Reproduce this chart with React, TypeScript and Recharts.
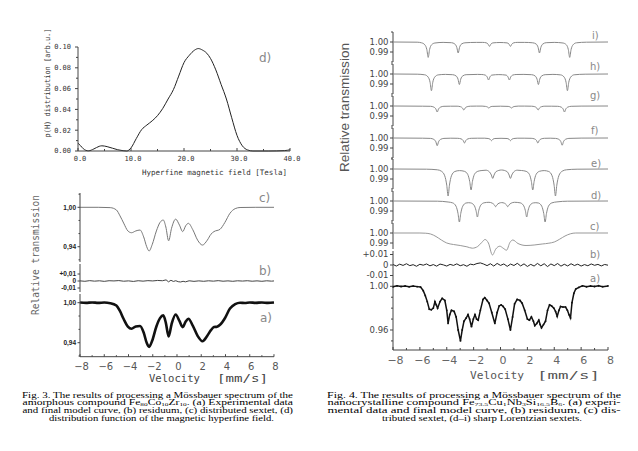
import React from 'react';
import { LineChart, Line, XAxis, YAxis, ReferenceLine } from 'recharts';

type Pair = [number, number];
const toRows = (pairs: Pair[]) => pairs.map(([v, t]) => ({ v, t }));

// ---------- Fig. 3 (d): distribution of the hyperfine field ----------
const hfField = [0, 0.5, 1, 1.5, 2, 3, 4, 4.5, 5.5, 6.5, 7.5, 8.5, 9.2, 10, 11, 12, 13, 14, 15, 16, 17, 18, 19, 20, 21, 22, 22.7, 23.5, 24.3, 25, 26, 27, 28, 29, 30, 31, 32, 33, 36, 39, 40];
const hfProb = [0.0075, 0.005, 0.0022, 0.0006, 0.0002, 0.002, 0.0045, 0.005, 0.0042, 0.0027, 0.0012, 0.0003, 0.0, 0.003, 0.012, 0.0205, 0.025, 0.029, 0.034, 0.041, 0.05, 0.059, 0.072, 0.085, 0.092, 0.097, 0.0985, 0.097, 0.094, 0.089, 0.078, 0.064, 0.05, 0.032, 0.015, 0.005, 0.001, 0.0, 0.0, 0.0004, 0.0012];
const hfTicks = [0, 5, 10, 15, 20, 25, 30, 35, 40];
const hfTickLabels: Record<string, string> = { '0': '0.0', '10': '10.0', '20': '20.0', '30': '30.0', '40': '40.0' };
const probTicks = [0, 0.01, 0.02, 0.03, 0.04, 0.05, 0.06, 0.07, 0.08, 0.09, 0.1];
const probTickLabels: Record<string, string> = { '0.00': '0.00', '0.02': '0.02', '0.04': '0.04', '0.06': '0.06', '0.08': '0.08', '0.10': '0.10' };

// ---------- Fig. 3 (a)-(c): Fe80Co10Zr10 spectrum ----------
const fig3Sextet: Pair[] = [
  [-8, 1.0], [-6.5, 1.0], [-5.5, 0.9995], [-5.0, 0.996], [-4.7, 0.987], [-4.4, 0.976], [-4.05, 0.964], [-3.75, 0.9613],
  [-3.4, 0.964], [-3.05, 0.9654], [-2.75, 0.955], [-2.5, 0.94], [-2.3, 0.9335], [-2.05, 0.943], [-1.7, 0.964], [-1.4, 0.977],
  [-1.13, 0.9806], [-0.92, 0.97], [-0.69, 0.949], [-0.45, 0.968], [-0.11, 0.982], [0.2, 0.973], [0.47, 0.963], [0.72, 0.972],
  [0.94, 0.9756], [1.3, 0.966], [1.7, 0.95], [2.1, 0.9425], [2.5, 0.95], [2.8, 0.959], [3.05, 0.963], [3.55, 0.9665],
  [3.95, 0.977], [4.37, 0.991], [4.8, 0.998], [5.2, 0.9997], [6.5, 1.0], [8, 1.0],
];
const fig3Residual: Pair[] = [
  [-8, 0.0002], [-7.6, -0.0004], [-7.2, 0.0005], [-6.8, -0.0002], [-6.4, 0.0003], [-6.0, -0.0005], [-5.6, 0.0004], [-5.2, 0.0001],
  [-4.8, 0.0006], [-4.4, -0.0003], [-4.0, 0.0002], [-3.6, -0.0006], [-3.2, 0.0004], [-2.8, -0.0002], [-2.4, 0.0005], [-2.0, 0.0001],
  [-1.6, 0.0008], [-1.2, 0.0004], [-0.9, 0.0016], [-0.7, -0.0012], [-0.5, 0.001], [-0.3, -0.0006], [-0.1, 0.0004], [0.1, -0.001],
  [0.3, -0.0014], [0.5, -0.0004], [0.7, -0.0012], [1.0, 0.0003], [1.4, -0.0005], [1.8, 0.0002], [2.2, -0.0004], [2.6, 0.0003],
  [3.0, -0.0002], [3.4, 0.0005], [3.8, -0.0003], [4.2, 0.0002], [4.6, -0.0004], [5.0, 0.0003], [5.4, -0.0001], [5.8, 0.0004],
  [6.2, -0.0003], [6.6, 0.0002], [7.0, -0.0004], [7.4, 0.0003], [7.8, -0.0002], [8.0, 0.0001],
];
const fig3Measured: Pair[] = [
  [-8, 1.0003], [-7.5, 0.9998], [-7, 1.0004], [-6.5, 0.9997], [-6, 1.0002], [-5.5, 0.9993], [-5.0, 0.9958], [-4.7, 0.9872],
  [-4.4, 0.9755], [-4.05, 0.9642], [-3.75, 0.961], [-3.4, 0.9643], [-3.05, 0.965], [-2.75, 0.9553], [-2.5, 0.9398], [-2.3, 0.9338],
  [-2.05, 0.9428], [-1.7, 0.9643], [-1.4, 0.9768], [-1.13, 0.981], [-0.92, 0.9698], [-0.69, 0.9495], [-0.45, 0.9676], [-0.11, 0.9823],
  [0.2, 0.9726], [0.47, 0.9634], [0.72, 0.9718], [0.94, 0.976], [1.3, 0.9656], [1.7, 0.9503], [2.1, 0.9422], [2.5, 0.9504],
  [2.8, 0.9588], [3.05, 0.9634], [3.3, 0.964], [3.55, 0.9668], [3.95, 0.9766], [4.37, 0.9912], [4.8, 0.9978], [5.2, 0.9999],
  [5.6, 0.9996], [6, 1.0004], [6.5, 0.9998], [7, 1.0003], [7.5, 0.9997], [8, 1.0002],
];

// ---------- Fig. 4: Fe73.5Cu1Nb3Si16.5B6 spectrum ----------
const sextetI: Pair[] = [
  [-8, 1.0], [-6.2, 0.9998],
  [-5.88, 0.9992], [-5.63, 0.9972], [-5.48, 0.9923], [-5.38, 0.9846], [-5.28, 0.9923], [-5.13, 0.9972], [-4.88, 0.999],
  [-4.27, 0.9996],
  [-3.65, 0.9993], [-3.4, 0.998], [-3.25, 0.9945], [-3.15, 0.989], [-3.05, 0.9945], [-2.9, 0.998], [-2.65, 0.9992],
  [-1.8, 0.9996],
  [-1.32, 0.9996], [-1.07, 0.9992], [-0.92, 0.9978], [-0.82, 0.9956], [-0.72, 0.9978], [-0.57, 0.9991],
  [-0.04, 0.9995],
  [0.49, 0.9991], [0.64, 0.9978], [0.74, 0.9956], [0.84, 0.9978], [0.99, 0.9992], [1.24, 0.9996],
  [1.8, 0.9996],
  [2.4, 0.9992], [2.65, 0.998], [2.8, 0.9945], [2.9, 0.989], [3.0, 0.9945], [3.15, 0.998], [3.4, 0.9993],
  [4.0, 0.9996],
  [4.65, 0.999], [4.9, 0.9972], [5.05, 0.9923], [5.15, 0.9846], [5.25, 0.9923], [5.4, 0.9972], [5.65, 0.9992],
  [6.4, 0.9998], [8, 1.0],
];
const sextetH: Pair[] = [
  [-8, 1.0], [-6.2, 0.9998],
  [-5.64, 0.9992], [-5.39, 0.997], [-5.24, 0.9917], [-5.14, 0.9833], [-5.04, 0.9917], [-4.89, 0.997], [-4.64, 0.9991],
  [-4.1, 0.9996],
  [-3.56, 0.9993], [-3.31, 0.9981], [-3.16, 0.9948], [-3.06, 0.9895], [-2.96, 0.9948], [-2.81, 0.9981], [-2.56, 0.9993],
  [-1.7, 0.9996],
  [-1.39, 0.9995], [-1.14, 0.9989], [-0.99, 0.997], [-0.89, 0.994], [-0.79, 0.997], [-0.64, 0.9989],
  [-0.12, 0.9994],
  [0.41, 0.9989], [0.56, 0.997], [0.66, 0.994], [0.76, 0.997], [0.91, 0.9989], [1.16, 0.9995],
  [1.74, 0.9996],
  [2.32, 0.9993], [2.57, 0.9981], [2.72, 0.9948], [2.82, 0.9895], [2.92, 0.9948], [3.07, 0.9981], [3.32, 0.9993],
  [3.9, 0.9996],
  [4.48, 0.9991], [4.73, 0.997], [4.88, 0.9917], [4.98, 0.9833], [5.08, 0.9917], [5.23, 0.997], [5.48, 0.9992],
  [6.3, 0.9998], [8, 1.0],
];
const sextetG: Pair[] = [
  [-8, 1.0], [-5.8, 0.9998],
  [-5.21, 0.9997], [-4.96, 0.9989], [-4.81, 0.997], [-4.71, 0.994], [-4.61, 0.997], [-4.46, 0.9989], [-4.21, 0.9997],
  [-3.72, 0.9998],
  [-3.23, 0.9998], [-2.98, 0.9993], [-2.83, 0.998], [-2.73, 0.996], [-2.63, 0.998], [-2.48, 0.9993], [-2.23, 0.9998],
  [-1.8, 0.9999],
  [-1.37, 0.9999], [-1.12, 0.9996], [-0.97, 0.999], [-0.87, 0.998], [-0.77, 0.999], [-0.62, 0.9996],
  [0.0, 0.9998],
  [0.57, 0.9996], [0.72, 0.999], [0.82, 0.998], [0.92, 0.999], [1.07, 0.9996], [1.32, 0.9999],
  [1.8, 0.9999],
  [2.3, 0.9998], [2.55, 0.9993], [2.7, 0.998], [2.8, 0.996], [2.9, 0.998], [3.05, 0.9993], [3.3, 0.9998],
  [3.78, 0.9998],
  [4.26, 0.9997], [4.51, 0.9989], [4.66, 0.997], [4.76, 0.994], [4.86, 0.997], [5.01, 0.9989], [5.26, 0.9997],
  [6.0, 0.9999], [8, 1.0],
];
const sextetF: Pair[] = [
  [-8, 1.0], [-5.8, 0.9998],
  [-5.21, 0.9996], [-4.96, 0.9986], [-4.81, 0.9962], [-4.71, 0.9923], [-4.61, 0.9962], [-4.46, 0.9986], [-4.21, 0.9996],
  [-3.7, 0.9998],
  [-3.18, 0.9997], [-2.93, 0.9991], [-2.78, 0.9975], [-2.68, 0.995], [-2.58, 0.9975], [-2.43, 0.9991], [-2.18, 0.9997],
  [-1.7, 0.9998],
  [-1.17, 0.9998], [-0.92, 0.9995], [-0.77, 0.9987], [-0.67, 0.9973], [-0.57, 0.9987], [-0.42, 0.9995],
  [0.04, 0.9997],
  [0.49, 0.9995], [0.64, 0.9987], [0.74, 0.9973], [0.84, 0.9987], [0.99, 0.9995], [1.24, 0.9998],
  [1.76, 0.9998],
  [2.28, 0.9997], [2.53, 0.9991], [2.68, 0.9975], [2.78, 0.995], [2.88, 0.9975], [3.03, 0.9991], [3.28, 0.9997],
  [3.7, 0.9998],
  [4.09, 0.9996], [4.34, 0.9987], [4.49, 0.9964], [4.59, 0.9928], [4.69, 0.9964], [4.84, 0.9987], [5.09, 0.9996],
  [6.0, 0.9999], [8, 1.0],
];
const sextetE: Pair[] = [
  [-8, 1.0], [-5.5, 0.9998], [-4.7, 0.9992],
  [-4.4, 0.9978], [-4.15, 0.9932], [-4.0, 0.9838], [-3.9, 0.973], [-3.8, 0.9838], [-3.65, 0.9932], [-3.4, 0.9975],
  [-3.05, 0.9984],
  [-2.69, 0.9977], [-2.44, 0.9946], [-2.29, 0.9874], [-2.19, 0.979], [-2.09, 0.9874], [-1.94, 0.9946], [-1.69, 0.9977],
  [-1.38, 0.9985],
  [-1.08, 0.9988], [-0.83, 0.9972], [-0.68, 0.994], [-0.58, 0.9906], [-0.48, 0.994], [-0.33, 0.9974],
  [0.08, 0.999],
  [0.49, 0.9974], [0.64, 0.994], [0.74, 0.9906], [0.84, 0.994], [0.99, 0.9972], [1.24, 0.9988],
  [1.57, 0.9985],
  [1.9, 0.9977], [2.15, 0.9946], [2.3, 0.9874], [2.4, 0.979], [2.5, 0.9874], [2.65, 0.9946], [2.9, 0.9977],
  [3.25, 0.9984],
  [3.59, 0.9975], [3.84, 0.9932], [3.99, 0.9838], [4.09, 0.973], [4.19, 0.9838], [4.34, 0.9932], [4.59, 0.9978],
  [4.9, 0.9992], [5.7, 0.9998], [8, 1.0],
];
const sextetD: Pair[] = [
  [-8, 1.0], [-4.7, 0.9998], [-3.9, 0.999],
  [-3.56, 0.9981], [-3.31, 0.9948], [-3.16, 0.9874], [-3.06, 0.979], [-2.96, 0.9874], [-2.81, 0.9948], [-2.56, 0.998],
  [-2.39, 0.9983],
  [-2.22, 0.9981], [-1.97, 0.9958], [-1.82, 0.9904], [-1.72, 0.984], [-1.62, 0.9904], [-1.47, 0.9958], [-1.22, 0.9982],
  [-0.86, 0.9987], [-0.61, 0.9978], [-0.46, 0.9962], [-0.36, 0.9943], [-0.26, 0.9962], [-0.11, 0.9978],
  [0.09, 0.9984],
  [0.29, 0.9978], [0.44, 0.9962], [0.54, 0.9943], [0.64, 0.9962], [0.79, 0.9978], [1.04, 0.9987],
  [1.45, 0.9982], [1.7, 0.9958], [1.85, 0.9904], [1.95, 0.984], [2.05, 0.9904], [2.2, 0.9958], [2.45, 0.9981],
  [2.63, 0.9983],
  [2.82, 0.998], [3.07, 0.9948], [3.22, 0.9874], [3.32, 0.979], [3.42, 0.9874], [3.57, 0.9948], [3.82, 0.9981],
  [4.2, 0.9991], [5.0, 0.9998], [8, 1.0],
];
const fig4Distributed: Pair[] = [
  [-8, 1.0], [-6, 1.0], [-5.6, 0.9998], [-5.2, 0.999], [-4.8, 0.9965], [-4.4, 0.993], [-4.0, 0.99], [-3.5, 0.9885],
  [-3.0, 0.9875], [-2.5, 0.9862], [-2.1, 0.9848], [-1.7, 0.9865], [-1.4, 0.9905], [-1.15, 0.9935], [-0.9, 0.99],
  [-0.6, 0.978], [-0.35, 0.984], [-0.05, 0.9868], [0.2, 0.9848], [0.45, 0.9828], [0.7, 0.9905], [0.92, 0.993],
  [1.3, 0.9895], [1.9, 0.9875], [2.5, 0.988], [3.1, 0.989], [3.6, 0.9898], [4.0, 0.991], [4.4, 0.9938], [4.8, 0.997],
  [5.2, 0.9992], [5.6, 1.0], [8, 1.0],
];
const fig4Residual: Pair[] = [
  [-8, 0.0005], [-7.75, -0.001], [-7.5, 0.0008], [-7.25, -0.0004], [-7, 0.0012], [-6.75, -0.0006], [-6.5, 0.0003], [-6.25, -0.0012],
  [-6, 0.0007], [-5.75, -0.0002], [-5.5, 0.001], [-5.25, -0.0008], [-5, 0.0004], [-4.75, -0.0011], [-4.5, 0.0009], [-4.25, 0.0001],
  [-4, -0.001], [-3.75, 0.0006], [-3.5, -0.0004], [-3.25, 0.0011], [-3, -0.0007], [-2.75, 0.0003], [-2.5, -0.0012], [-2.25, 0.0008],
  [-2, 0.0002], [-1.75, 0.0014], [-1.5, 0.002], [-1.25, 0.0009], [-1, -0.0006], [-0.75, 0.0012], [-0.5, -0.001], [-0.25, 0.0015],
  [0, -0.0004], [0.25, 0.001], [0.5, -0.0013], [0.75, 0.0009], [1, -0.0005], [1.25, 0.0016], [1.5, -0.0009], [1.75, 0.0011],
  [2, -0.0014], [2.25, 0.0006], [2.5, -0.001], [2.75, 0.0015], [3, -0.0008], [3.25, 0.0012], [3.5, -0.0015], [3.75, 0.001],
  [4, -0.0006], [4.25, 0.0014], [4.5, -0.0011], [4.75, 0.0007], [5, -0.0009], [5.25, 0.0012], [5.5, -0.0005], [5.75, 0.0008],
  [6, -0.001], [6.25, 0.0004], [6.5, -0.0007], [6.75, 0.001], [7, -0.0003], [7.25, 0.0006], [7.5, -0.0009], [7.75, 0.0005], [8, -0.0002],
];
const fig4Measured: Pair[] = [
  [-8.0, 0.9996], [-7.7, 1.0004], [-7.4, 0.9998], [-7.1, 1.0003], [-6.8, 0.9995], [-6.5, 1.0002], [-6.2, 0.9997], [-5.95, 0.9993],
  [-5.75, 0.996], [-5.6, 0.9915], [-5.45, 0.986], [-5.3, 0.979], [-5.15, 0.9785], [-5.0, 0.98], [-4.88, 0.986], [-4.78, 0.983],
  [-4.68, 0.98], [-4.5, 0.986], [-4.34, 0.989], [-4.14, 0.987], [-4.0, 0.978], [-3.9, 0.966], [-3.78, 0.974], [-3.65, 0.978],
  [-3.45, 0.977], [-3.3, 0.972], [-3.15, 0.96], [-2.98, 0.95], [-2.85, 0.96], [-2.72, 0.968], [-2.55, 0.971], [-2.42, 0.974],
  [-2.3, 0.97], [-2.16, 0.963], [-2.02, 0.97], [-1.9, 0.974], [-1.78, 0.97], [-1.66, 0.969], [-1.5, 0.978], [-1.3, 0.988],
  [-1.17, 0.9897], [-1.0, 0.987], [-0.85, 0.9845], [-0.65, 0.976], [-0.42, 0.966], [-0.25, 0.976], [-0.1, 0.982], [0.05, 0.983],
  [0.2, 0.9815], [0.35, 0.979], [0.55, 0.97], [0.74, 0.96], [0.9, 0.972], [1.05, 0.984], [1.24, 0.988], [1.45, 0.987],
  [1.61, 0.9845], [1.8, 0.978], [2.0, 0.97], [2.15, 0.969], [2.3, 0.972], [2.45, 0.968], [2.55, 0.964], [2.7, 0.966],
  [2.85, 0.969], [2.95, 0.965], [3.05, 0.962], [3.2, 0.965], [3.35, 0.968], [3.5, 0.978], [3.65, 0.983], [3.8, 0.982],
  [3.97, 0.98], [4.1, 0.977], [4.22, 0.9725], [4.35, 0.978], [4.47, 0.9815], [4.65, 0.981], [4.84, 0.981], [4.98, 0.978],
  [5.1, 0.974], [5.21, 0.971], [5.32, 0.985], [5.46, 0.9936], [5.6, 0.9975], [5.83, 0.999], [6.1, 1.0004], [6.4, 0.9996],
  [6.7, 1.0003], [7.0, 0.9998], [7.3, 1.0005], [7.6, 0.9997], [8.0, 1.0003],
];

// velocity axis
const velocityTicks = [-8, -7, -6, -5, -4, -3, -2, -1, 0, 1, 2, 3, 4, 5, 6, 7, 8];
const velocityTickLabels: Record<string, string> = { '-8': '−8', '-6': '−6', '-4': '−4', '-2': '−2', '0': '0', '2': '2', '4': '4', '6': '6', '8': '8' };

// sextet panel ticks
const sextetTicks = [1.01, 1.0, 0.99, 0.98];
const sextetTickLabels: Record<string, string> = { '1.00': '1.00', '0.99': '0.99' };
const fig4DistTicks = [1.01, 1.0, 0.99];
const fig4ResTicks = [0.01, 0, -0.01];
const fig4ResTickLabels: Record<string, string> = { '0.01': '+0.01', '0.00': '0', '-0.01': '-0.01' };
const fig4MeasTicks = [1.0, 0.99, 0.98, 0.97, 0.96, 0.95];
const fig4MeasTickLabels: Record<string, string> = { '1.00': '1.00', '0.96': '0.96' };

const fig3SextetTicks = [1.02, 1.0, 0.98, 0.96, 0.94, 0.92];
const fig3TransTickLabels: Record<string, string> = { '1.00': '1,00', '0.94': '0,94' };
const fig3ResTicks = [0.01, 0, -0.01];
const fig3ResTickLabels: Record<string, string> = { '0.01': '+0,01', '0.00': '0', '-0.01': '-0,01' };
const fig3MeasTicks = [1.0, 0.98, 0.96, 0.94, 0.92];

// caption lines: [text, subscript?]
type Seg = [string, boolean];
const fig3Caption: Seg[][] = [
  [['Fig. 3. The results of processing a Mössbauer spectrum of the', false]],
  [['amorphous compound Fe', false], ['80', true], ['Co', false], ['10', true], ['Zr', false], ['10', true], ['. (a) Experimental data', false]],
  [['and final model curve, (b) residuum, (c) distributed sextet, (d)', false]],
  [['distribution function of the magnetic hyperfine field.', false]],
];
const fig4Caption: Seg[][] = [
  [['Fig. 4. The results of processing a Mössbauer spectrum of the', false]],
  [['nanocrystalline compound Fe', false], ['73.5', true], ['Cu', false], ['1', true], ['Nb', false], ['3', true], ['Si', false], ['16.5', true], ['B', false], ['6', true], ['. (a) experi-', false]],
  [['mental data and final model curve, (b) residuum, (c) dis-', false]],
  [['tributed sextet, (d–i) sharp Lorentzian sextets.', false]],
];

const AXIS = '#444';

type YTickOpts = { labels: Record<string, string>; digits: number; len: number; gap: number; font: string; size: number; fill: string; weight?: number };
const makeYTick = (o: YTickOpts) => (p: any) => {
  const value = Number(p.payload?.value);
  const text = o.labels[(Math.abs(value) < 1e-9 ? 0 : value).toFixed(o.digits)];
  return (
    <g>
      <line x1={p.x} x2={p.x - (text ? o.len : o.len - 1)} y1={p.y} y2={p.y} stroke={AXIS} strokeWidth={1} />
      {text !== undefined && (
        <text x={p.x - o.len - o.gap} y={p.y} dy="0.35em" textAnchor="end" fontFamily={o.font} fontSize={o.size} fontWeight={o.weight ?? 400} fill={o.fill}>
          {text}
        </text>
      )}
    </g>
  );
};

type XTickOpts = { labels: Record<string, string>; len: number; dy: number; dx: number; font: string; size: number; fill: string };
const makeXTick = (o: XTickOpts) => (p: any) => {
  const value = Number(p.payload?.value);
  const text = o.labels[String(value)];
  return (
    <g>
      <line x1={p.x} x2={p.x} y1={p.y} y2={p.y - (text ? o.len : o.len - 1)} stroke={AXIS} strokeWidth={1} />
      {text !== undefined && (
        <text x={p.x + o.dx} y={p.y + o.dy} textAnchor="middle" fontFamily={o.font} fontSize={o.size} fill={o.fill}>
          {text}
        </text>
      )}
    </g>
  );
};

const hfXTick = makeXTick({ labels: hfTickLabels, len: 3, dy: 10, dx: 2, font: 'DejaVu Sans Mono', size: 7, fill: '#333' });
const probYTick = makeYTick({ labels: probTickLabels, digits: 2, len: 3, gap: 4, font: 'DejaVu Sans Mono', size: 7, fill: '#333' });
const fig3XTick = makeXTick({ labels: velocityTickLabels, len: 2.5, dy: 13, dx: 1.5, font: 'DejaVu Sans', size: 10, fill: '#555' });
const fig3TransYTick = makeYTick({ labels: fig3TransTickLabels, digits: 2, len: 2.5, gap: 1.5, font: 'Liberation Sans', size: 6.5, fill: '#222', weight: 700 });
const fig3ResYTick = makeYTick({ labels: fig3ResTickLabels, digits: 2, len: 2.5, gap: 1.5, font: 'Liberation Sans', size: 6.5, fill: '#222', weight: 700 });
const fig4XTick = makeXTick({ labels: velocityTickLabels, len: 3, dy: 13.5, dx: 2.5, font: 'DejaVu Sans', size: 11, fill: '#666' });
const sextetYTick = makeYTick({ labels: sextetTickLabels, digits: 2, len: 3, gap: 1.5, font: 'DejaVu Sans', size: 8.5, fill: '#444' });
const fig4ResYTick = makeYTick({ labels: fig4ResTickLabels, digits: 2, len: 3, gap: 1.5, font: 'DejaVu Sans', size: 8.5, fill: '#444' });
const fig4MeasYTick = makeYTick({ labels: fig4MeasTickLabels, digits: 2, len: 3, gap: 1.5, font: 'DejaVu Sans', size: 8.5, fill: '#444' });

const ZERO = { top: 0, right: 0, bottom: 0, left: 0 };

// Fig. 4 sextet strips share one vertical scale (1000 px per unit)
const SEXTET_DOMAIN: [number, number] = [0.968, 1.012];

type StripProps = { top: number; rows: Pair[]; stroke: string; ticks: number[]; segTop: number; segBottom: number };
const Fig4Strip = ({ top, rows, stroke, ticks, segTop, segBottom }: StripProps) => (
  <div style={{ position: 'absolute', left: 350.5, top }}>
    <LineChart width={257} height={44} data={toRows(rows)} margin={ZERO}>
      <XAxis type="number" dataKey="v" domain={[-8, 8]} hide />
      <YAxis type="number" domain={SEXTET_DOMAIN} width={42} ticks={ticks} interval={0} tickSize={0} tickMargin={0} axisLine={false} tickLine={false} tick={sextetYTick} />
      <ReferenceLine segment={[{ x: -8, y: segTop }, { x: -8, y: segBottom }]} stroke={AXIS} strokeWidth={1} />
      <Line type="monotone" dataKey="t" stroke={stroke} strokeWidth={1} dot={false} isAnimationActive={false} />
    </LineChart>
  </div>
);

const hfRows = hfField.map((h, i) => ({ h, p: hfProb[i] }));

const CaptionLine = ({ x, y, width, segs }: { x: number; y: number; width: number; segs: Seg[] }) => (
  <text x={x} y={y} fontFamily="Liberation Serif" fontSize={7.3} fill="#000" textLength={width} lengthAdjust="spacingAndGlyphs">
    {segs.map(([s, sub], i) => {
      const prevSub = i > 0 && segs[i - 1][1];
      const dy = sub && !prevSub ? 1.1 : !sub && prevSub ? -1.1 : 0;
      return (
        <tspan key={i} dy={dy} fontSize={sub ? 4.6 : undefined}>
          {s}
        </tspan>
      );
    })}
  </text>
);

export default function App() {
  const panelLabel = { fontFamily: 'DejaVu Sans', fill: '#888' } as const;
  return (
    <div style={{ position: 'absolute', left: 0, top: 0, width: 638, height: 451, background: '#fff', overflow: 'hidden' }}>
      {/* Fig. 3 (d) */}
      <div style={{ position: 'absolute', left: 38, top: 41 }}>
        <LineChart width={266} height={134} data={hfRows} margin={{ top: 6, right: 14, bottom: 0, left: 0 }}>
          <XAxis type="number" dataKey="h" domain={[0, 40]} ticks={hfTicks} interval={0} height={24} tickSize={0} tickMargin={0} tickLine={false} stroke={AXIS} tick={hfXTick} />
          <YAxis type="number" domain={[0, 0.1]} width={40} ticks={probTicks} interval={0} tickSize={0} tickMargin={0} tickLine={false} stroke={AXIS} tick={probYTick} />
          <Line type="monotone" dataKey="p" stroke="#222" strokeWidth={1} dot={false} isAnimationActive={false} />
        </LineChart>
      </div>

      {/* Fig. 3 (c) distributed sextet */}
      <div style={{ position: 'absolute', left: 40, top: 193 }}>
        <LineChart width={234} height={69} data={toRows(fig3Sextet)} margin={ZERO}>
          <XAxis type="number" dataKey="v" domain={[-8, 8]} hide />
          <YAxis type="number" domain={[0.9167, 1.0218]} width={40} ticks={fig3SextetTicks} interval={0} tickSize={0} tickMargin={0} tickLine={false} stroke={AXIS} tick={fig3TransYTick} />
          <Line type="monotone" dataKey="t" stroke="#777" strokeWidth={1} dot={false} isAnimationActive={false} />
        </LineChart>
      </div>
      {/* Fig. 3 (b) residuum */}
      <div style={{ position: 'absolute', left: 40, top: 264 }}>
        <LineChart width={234} height={28} data={toRows(fig3Residual)} margin={ZERO}>
          <XAxis type="number" dataKey="v" domain={[-8, 8]} hide />
          <YAxis type="number" domain={[-0.01571, 0.02429]} width={40} ticks={fig3ResTicks} interval={0} tickSize={0} tickMargin={0} tickLine={false} stroke={AXIS} tick={fig3ResYTick} />
          <Line type="linear" dataKey="t" stroke="#444" strokeWidth={1} dot={false} isAnimationActive={false} />
        </LineChart>
      </div>
      {/* Fig. 3 (a) experimental data */}
      <div style={{ position: 'absolute', left: 40, top: 294 }}>
        <LineChart width={246} height={86.7} data={toRows(fig3Measured)} margin={{ top: 0, right: 12, bottom: 0, left: 0 }}>
          <XAxis type="number" dataKey="v" domain={[-8, 8]} ticks={velocityTicks} interval={0} height={24} tickSize={0} tickMargin={0} tickLine={false} stroke={AXIS} tick={fig3XTick} />
          <YAxis type="number" domain={[0.919, 1.01305]} width={40} ticks={fig3MeasTicks} interval={0} tickSize={0} tickMargin={0} tickLine={false} stroke={AXIS} tick={fig3TransYTick} />
          <Line type="monotone" dataKey="t" stroke="#111" strokeWidth={2.6} dot={false} isAnimationActive={false} />
        </LineChart>
      </div>

      {/* Fig. 4 (i)-(d) sharp sextets, (c) distributed sextet */}
      <Fig4Strip top={29.8} rows={sextetI} stroke="#888" ticks={sextetTicks} segTop={1.01} segBottom={0.98} />
      <Fig4Strip top={61.7} rows={sextetH} stroke="#888" ticks={sextetTicks} segTop={1.01} segBottom={0.98} />
      <Fig4Strip top={93.6} rows={sextetG} stroke="#888" ticks={sextetTicks} segTop={1.01} segBottom={0.98} />
      <Fig4Strip top={125.5} rows={sextetF} stroke="#888" ticks={sextetTicks} segTop={1.01} segBottom={0.98} />
      <Fig4Strip top={157.4} rows={sextetE} stroke="#888" ticks={sextetTicks} segTop={1.01} segBottom={0.98} />
      <Fig4Strip top={189.3} rows={sextetD} stroke="#888" ticks={sextetTicks} segTop={1.01} segBottom={0.98} />
      <Fig4Strip top={221.2} rows={fig4Distributed} stroke="#999" ticks={fig4DistTicks} segTop={1.01} segBottom={0.984} />

      {/* Fig. 4 (b) residuum */}
      <div style={{ position: 'absolute', left: 350.5, top: 245 }}>
        <LineChart width={257} height={34} data={toRows(fig4Residual)} margin={{ top: 6, right: 0, bottom: 0, left: 0 }}>
          <XAxis type="number" dataKey="v" domain={[-8, 8]} hide />
          <YAxis type="number" domain={[-0.01333, 0.01333]} width={42} ticks={fig4ResTicks} interval={0} tickSize={0} tickMargin={0} tickLine={false} stroke={AXIS} tick={fig4ResYTick} />
          <Line type="linear" dataKey="t" stroke="#222" strokeWidth={1} dot={false} isAnimationActive={false} />
        </LineChart>
      </div>
      {/* Fig. 4 (a) experimental data */}
      <div style={{ position: 'absolute', left: 350.5, top: 279 }}>
        <LineChart width={269} height={95} data={toRows(fig4Measured)} margin={{ top: 0, right: 12, bottom: 0, left: 0 }}>
          <XAxis type="number" dataKey="v" domain={[-8, 8]} ticks={velocityTicks} interval={0} height={24} tickSize={0} tickMargin={0} tickLine={false} stroke={AXIS} tick={fig4XTick} />
          <YAxis type="number" domain={[0.94169, 1.00668]} width={42} ticks={fig4MeasTicks} interval={0} tickSize={0} tickMargin={0} tickLine={false} stroke={AXIS} tick={fig4MeasYTick} />
          <Line type="linear" dataKey="t" stroke="#111" strokeWidth={1.5} dot={{ r: 0.9, fill: '#111', stroke: 'none' }} isAnimationActive={false} />
        </LineChart>
      </div>

      {/* titles, panel letters and captions */}
      <svg width={638} height={451} style={{ position: 'absolute', left: 0, top: 0, pointerEvents: 'none' }}>
        <text transform="translate(50,83) rotate(-90)" textAnchor="middle" fontFamily="DejaVu Sans Mono" fontSize={7.5} fill="#333" textLength={109} lengthAdjust="spacingAndGlyphs">
          p(H) distribution [arb.u.]
        </text>
        <text x={142} y={175} fontFamily="DejaVu Sans Mono" fontSize={7.5} fill="#333" textLength={145} lengthAdjust="spacingAndGlyphs">
          Hyperfine magnetic field [Tesla]
        </text>
        <text x={259} y={62} fontSize={12} {...panelLabel}>d)</text>

        <text transform="translate(39,255) rotate(-90)" textAnchor="middle" fontFamily="DejaVu Sans Mono" fontSize={10} fill="#666" textLength={120} lengthAdjust="spacingAndGlyphs">
          Relative transmission
        </text>
        <text x={259} y={202} fontSize={12} {...panelLabel}>c)</text>
        <text x={259} y={275} fontSize={12} {...panelLabel}>b)</text>
        <text x={260} y={322} fontSize={12} {...panelLabel}>a)</text>
        <text x={149} y={382} fontFamily="DejaVu Sans Mono" fontSize={10.5} fill="#444" textLength={51} lengthAdjust="spacingAndGlyphs">Velocity</text>
        <text x={217} y={382} fontFamily="DejaVu Sans Mono" fontSize={10.5} fill="#444" textLength={51} lengthAdjust="spacingAndGlyphs">[mm/s]</text>

        <text transform="translate(349,107.5) rotate(-90)" textAnchor="middle" fontFamily="Liberation Sans" fontSize={13} fill="#555" textLength={129} lengthAdjust="spacingAndGlyphs">
          Relative transmission
        </text>
        <text x={592} y={38.5} fontSize={10} {...panelLabel}>i)</text>
        <text x={590} y={70} fontSize={10} {...panelLabel}>h)</text>
        <text x={590} y={99} fontSize={10} {...panelLabel}>g)</text>
        <text x={591} y={134} fontSize={10} {...panelLabel}>f)</text>
        <text x={591} y={166.5} fontSize={10} {...panelLabel}>e)</text>
        <text x={591} y={199} fontSize={10} {...panelLabel}>d)</text>
        <text x={590} y={230} fontSize={10} {...panelLabel}>c)</text>
        <text x={590} y={258} fontSize={10} {...panelLabel}>b)</text>
        <text x={590} y={282} fontSize={10} {...panelLabel}>a)</text>
        <text x={470} y={379} fontFamily="DejaVu Sans Mono" fontSize={11} fill="#555" textLength={54} lengthAdjust="spacingAndGlyphs">Velocity</text>
        <text x={537} y={379} fontFamily="DejaVu Sans Mono" fontSize={11} fill="#555" textLength={63} lengthAdjust="spacingAndGlyphs">[mm/s]</text>

        <CaptionLine x={22} y={397.5} width={271} segs={fig3Caption[0]} />
        <CaptionLine x={22.5} y={405.3} width={270.5} segs={fig3Caption[1]} />
        <CaptionLine x={22.5} y={413.2} width={270.5} segs={fig3Caption[2]} />
        <CaptionLine x={49} y={420.8} width={225} segs={fig3Caption[3]} />

        <CaptionLine x={327} y={397.5} width={294} segs={fig4Caption[0]} />
        <CaptionLine x={327.5} y={405.3} width={293} segs={fig4Caption[1]} />
        <CaptionLine x={327.5} y={413.2} width={293} segs={fig4Caption[2]} />
        <CaptionLine x={382} y={420.8} width={200} segs={fig4Caption[3]} />
      </svg>
    </div>
  );
}
